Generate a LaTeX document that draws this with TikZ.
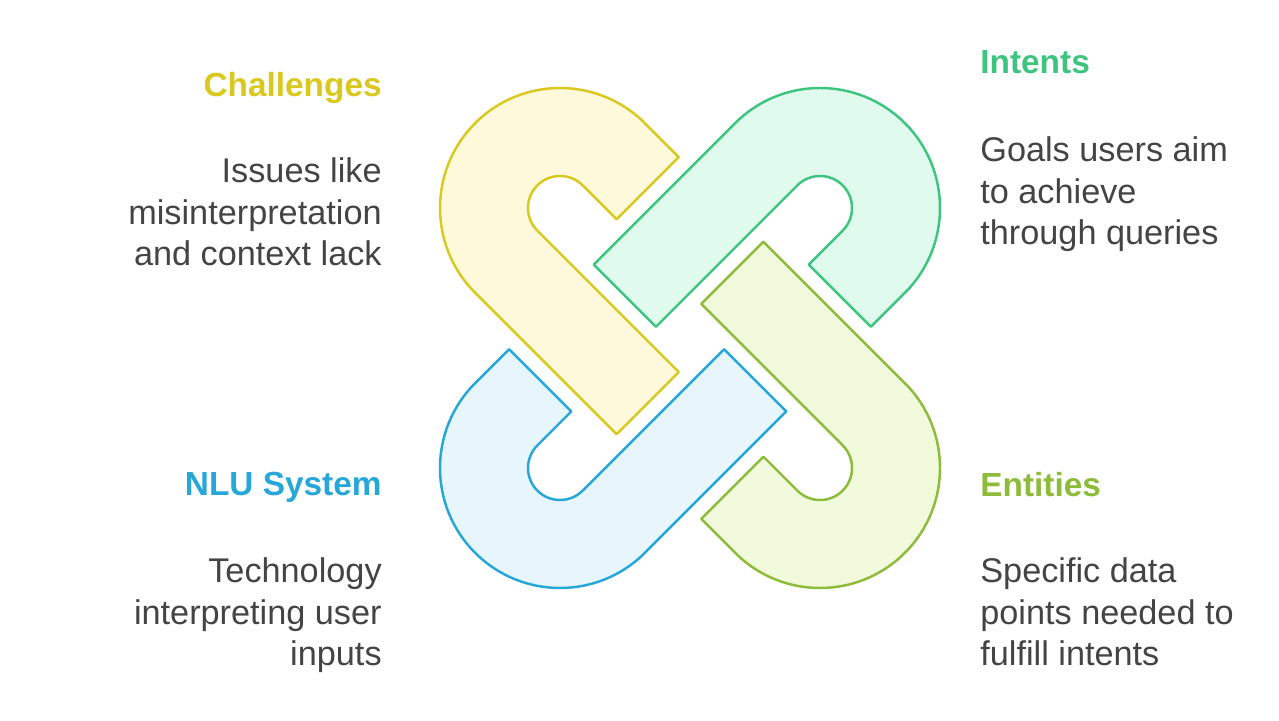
\documentclass[tikz,border=0pt]{standalone}
\usepackage{fontspec}
\setmainfont{Liberation Sans}
\definecolor{chalStroke}{HTML}{D9C81E}\definecolor{chalFill}{HTML}{FEF9DB}
\definecolor{intStroke}{HTML}{3DC57F}\definecolor{intFill}{HTML}{E0FAEE}
\definecolor{entStroke}{HTML}{8DBB3A}\definecolor{entFill}{HTML}{F1FBDC}
\definecolor{nluStroke}{HTML}{27A7D8}\definecolor{nluFill}{HTML}{E6F6FC}
\definecolor{bodyText}{HTML}{444444}
\newcommand{\chainlink}[4]{%
  \begin{scope}[shift={(#1,#2)},rotate=#3]
    \draw[draw=#4Stroke,fill=#4Fill,line width=1.4pt,line join=round]
      (0.96,2.4) -- (0,2.4) arc (90:270:2.4) -- (4,-2.4) -- (4,-0.64)
      -- (0,-0.64) arc (270:90:0.64) -- (0.96,0.64) -- cycle;
  \end{scope}}
\tikzset{
  title/.style={font=\fontsize{19}{23}\selectfont\bfseries,inner sep=0pt},
  body/.style={font=\fontsize{19.5}{23.8}\selectfont,text=bodyText,inner sep=0pt}
}
\begin{document}
\begin{tikzpicture}
  \useasboundingbox (0,0) rectangle (25.58,14.4);
  \chainlink{11.2}{10.24}{-45}{chal}
  \chainlink{16.4}{10.24}{-135}{int}
  \chainlink{16.4}{5.04}{135}{ent}
  \chainlink{11.2}{5.04}{45}{nlu}
  % left texts
  \node[title,text=chalStroke,anchor=north east] (chalTitle) at (7.64,12.96) {Challenges};
  \node[body,align=right,anchor=north east] (chalBody) at (7.64,11.26)
    {Issues like\\misinterpretation\\and context lack};
  \node[title,text=nluStroke,anchor=north east] (nluTitle) at (7.64,4.96) {NLU System};
  \node[body,align=right,anchor=north east] (nluBody) at (7.64,3.26)
    {Technology\\interpreting user\\inputs};
  % right texts
  \node[title,text=intStroke,anchor=north west] (intTitle) at (19.6,13.4) {Intents};
  \node[body,align=left,anchor=north west] (intBody) at (19.6,11.68)
    {Goals users aim\\to achieve\\through queries};
  \node[title,text=entStroke,anchor=north west] (entTitle) at (19.6,4.96) {Entities};
  \node[body,align=left,anchor=north west] (entBody) at (19.6,3.26)
    {Specific data\\points needed to\\fulfill intents};
\end{tikzpicture}
\end{document}
